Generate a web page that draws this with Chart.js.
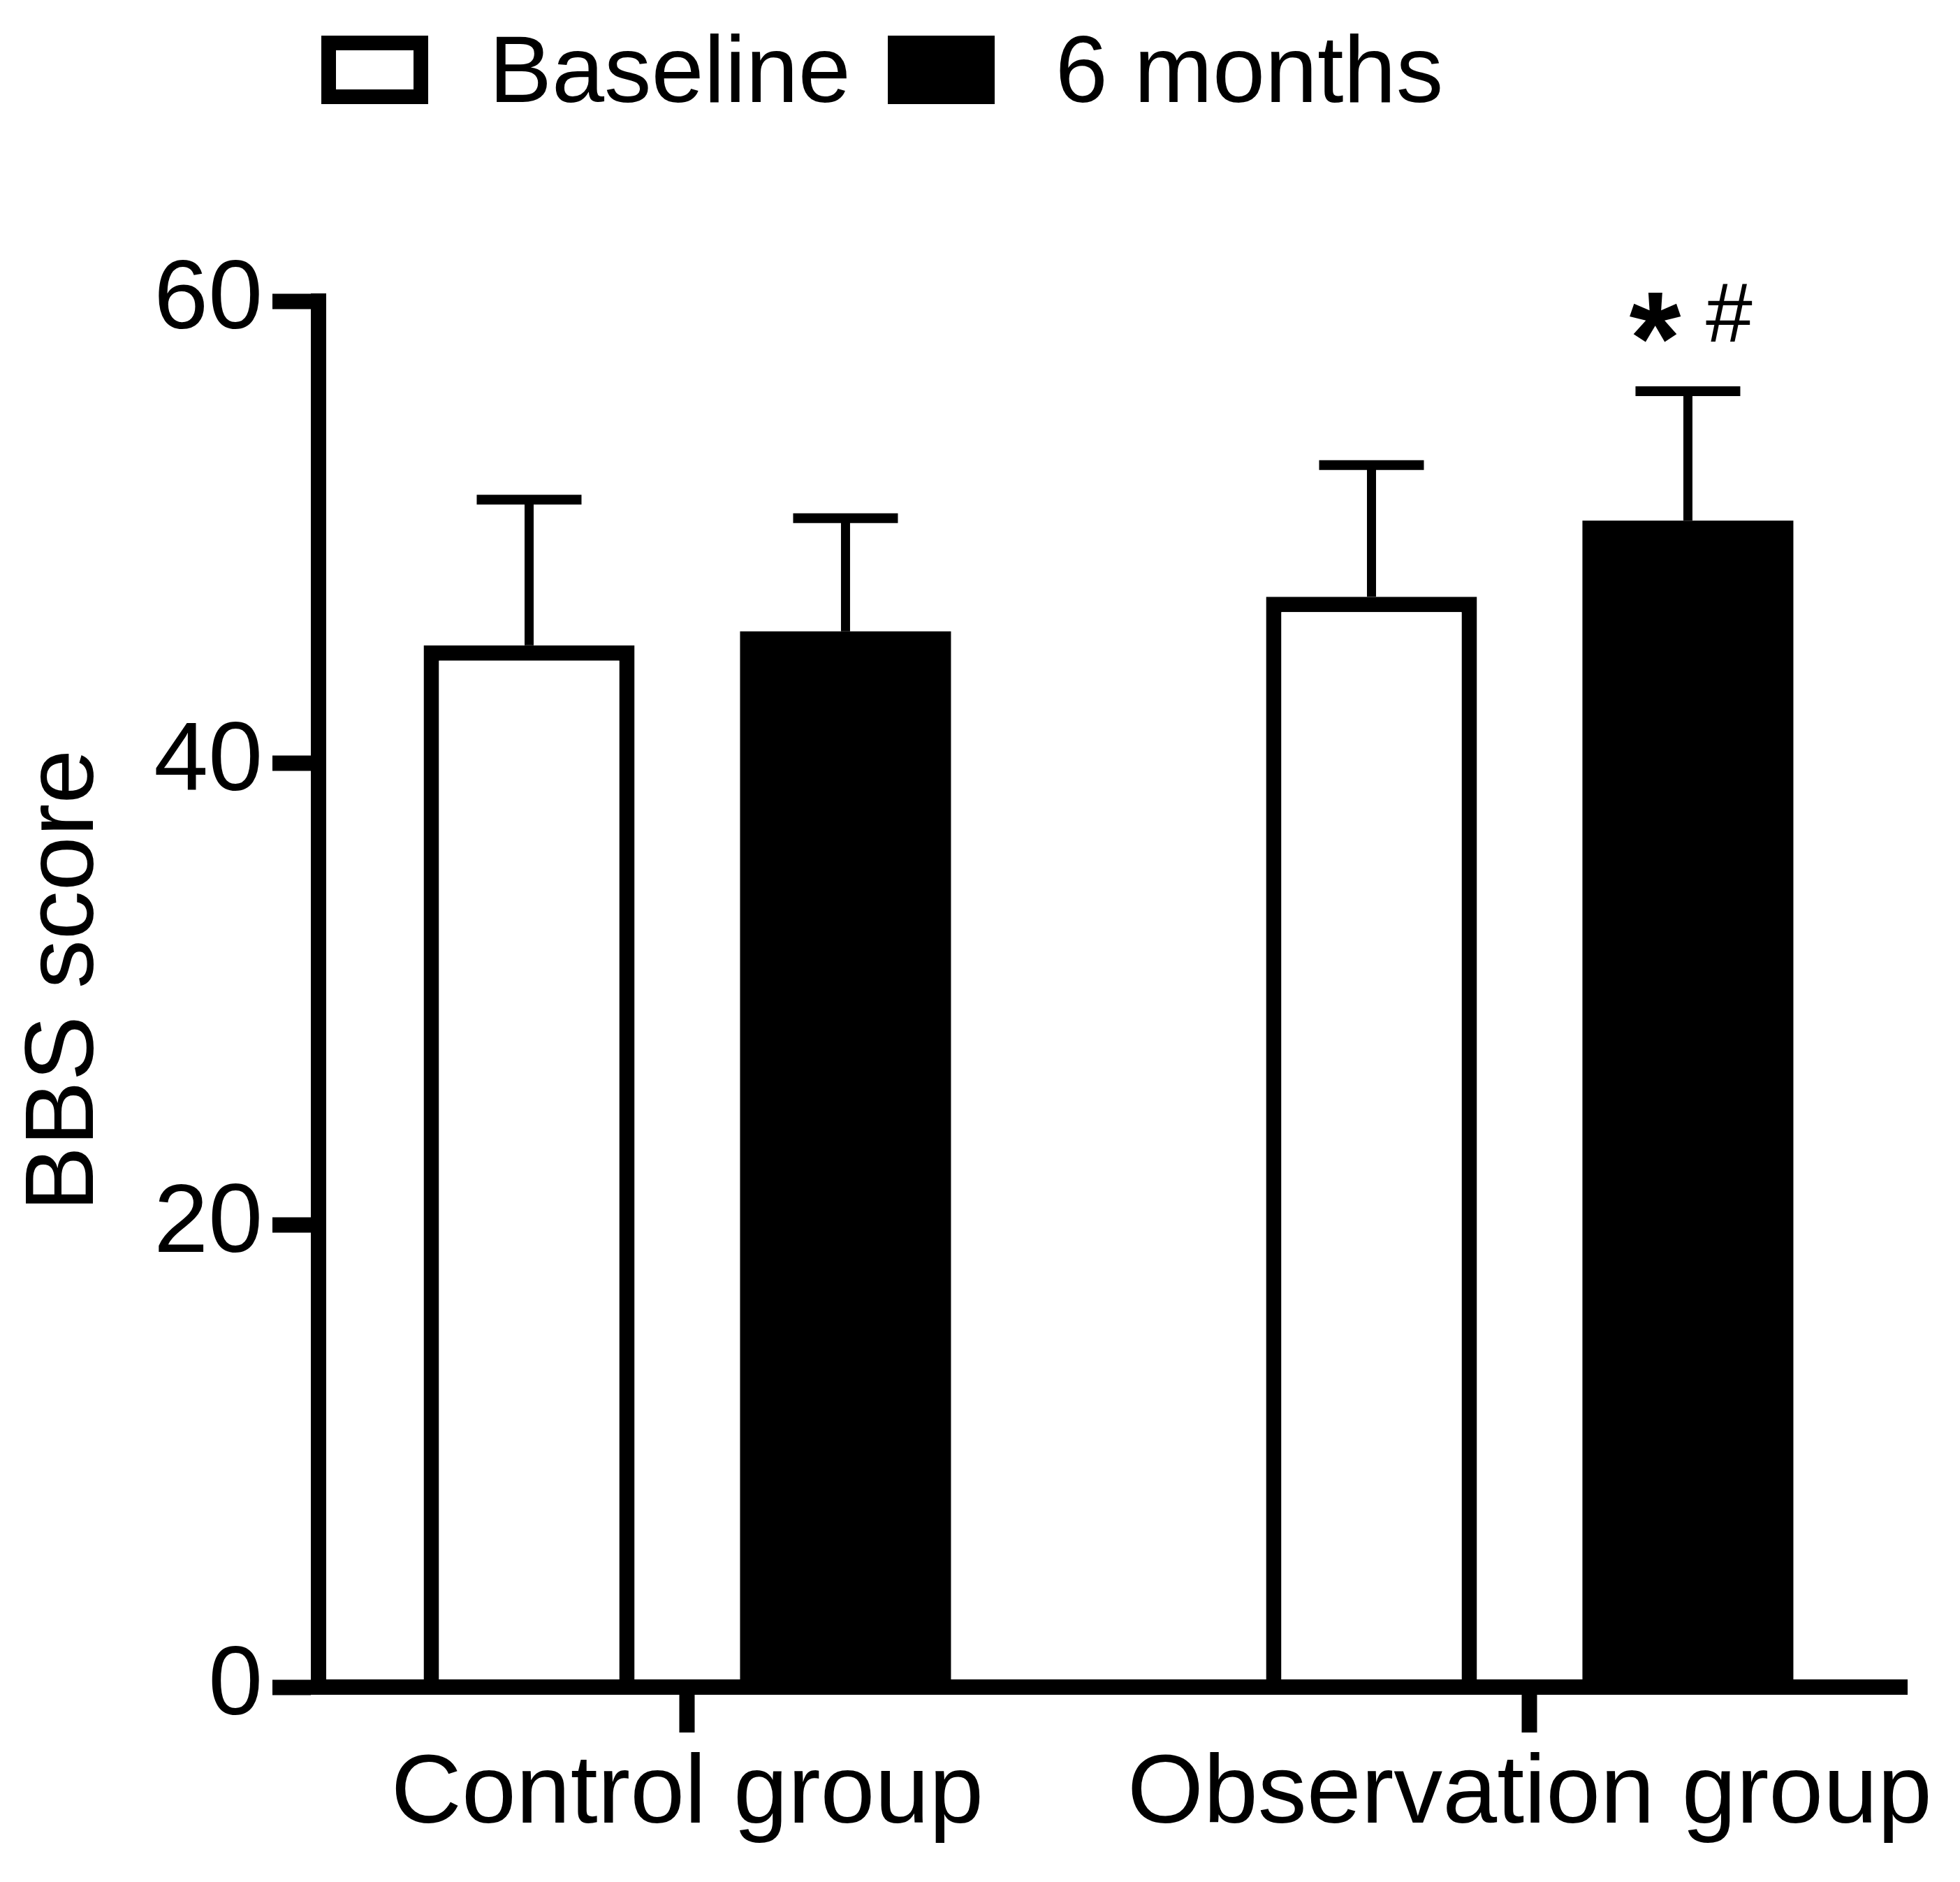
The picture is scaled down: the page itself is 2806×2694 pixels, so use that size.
<!DOCTYPE html>
<html>
<head>
<meta charset="utf-8">
<script src="https://cdn.jsdelivr.net/npm/chart.js@4.4.1/dist/chart.umd.min.js"></script>
<style>
  html, body { margin: 0; background: #fff; }
  #wrap { position: relative; width: 2806px; height: 2694px; }
  #legend { position: absolute; left: 460px; top: 51px; height: 98px; display: flex; align-items: center;
    font-family: 'Liberation Sans', Arial, sans-serif; font-size: 135px; line-height: 98px; color: #000; }
  #legend .lg { display: flex; align-items: center; margin-right: 53px; }
  #legend .sw { box-sizing: border-box; width: 153px; height: 98px; border: 21px solid #000; margin-right: 87px; }
</style>
</head>
<body>
<div id="wrap">
  <canvas id="chart" width="2806" height="2694"></canvas>
  <div id="legend"></div>
</div>
<script>
const FONT = "'Liberation Sans', Arial, sans-serif";
Chart.defaults.font.family = FONT;
Chart.defaults.color = '#000';

// groups along the x axis
const GROUPS = ['Control group', 'Observation group'];
// mean BBS score and SD per group
const BASELINE = [45.1, 47.2];
const BASELINE_SD = [6.3, 5.7];
const MONTH6 = [45.7, 50.5];
const MONTH6_SD = [4.9, 5.6];
// significance marks over the 6-month bars
const MONTH6_SIG = ['', '*#'];
const Y_TICKS = [0, 20, 40, 60];

// how each significance glyph is set, relative to the error bar cap
const SIG_STYLE = {
  '*': { font: `bold 190px ${FONT}`, dx: -47, dy: -105 },
  '#': { font: `120px ${FONT}`, dx: 59, dy: -112 },
};

function drawSig(ctx, text, x, capY) {
  [...text].forEach(ch => {
    const st = SIG_STYLE[ch];
    ctx.font = st.font;
    ctx.textAlign = 'left';
    ctx.textBaseline = 'alphabetic';
    const m = ctx.measureText(ch);
    // centre the ink box, not the advance box
    const tx = x + st.dx - (m.actualBoundingBoxRight - m.actualBoundingBoxLeft) / 2;
    const ty = capY + st.dy - (m.actualBoundingBoxDescent - m.actualBoundingBoxAscent) / 2;
    ctx.fillText(ch, tx, ty);
  });
}

// mean + SD whiskers, drawn on top of the bars
const errorBars = {
  id: 'errorBars',
  afterDatasetsDraw(chart) {
    const { ctx, scales: { y } } = chart;
    ctx.save();
    ctx.strokeStyle = '#000';
    ctx.fillStyle = '#000';
    ctx.lineCap = 'butt';
    chart.data.datasets.forEach((ds, di) => {
      chart.getDatasetMeta(di).data.forEach((bar, i) => {
        const capY = y.getPixelForValue(ds.data[i].y + ds.sd[i]);
        ctx.lineWidth = 13;
        ctx.beginPath(); ctx.moveTo(bar.x, bar.y); ctx.lineTo(bar.x, capY); ctx.stroke();
        ctx.lineWidth = 14;
        ctx.beginPath(); ctx.moveTo(bar.x - 75, capY); ctx.lineTo(bar.x + 75, capY); ctx.stroke();
        if (ds.sig && ds.sig[i]) drawSig(ctx, ds.sig[i], bar.x, capY);
      });
    });
    ctx.restore();
  }
};

const datasets = [
  { label: 'Baseline', data: BASELINE.map((v, i) => ({ x: i, y: v })), sd: BASELINE_SD,
    backgroundColor: '#fff', borderColor: '#000', borderWidth: 22 },
  // solid bar: no separate border, avoids a seam between border and fill
  { label: '6 months', data: MONTH6.map((v, i) => ({ x: i, y: v })), sd: MONTH6_SD, sig: MONTH6_SIG,
    backgroundColor: '#000', borderColor: '#000', borderWidth: 0 },
];

const axisBorder = { color: '#000', width: 22, z: 1 };

new Chart(document.getElementById('chart'), {
  type: 'bar',
  data: { datasets },
  options: {
    responsive: false,
    animation: false,
    datasets: { bar: { categoryPercentage: 0.7512, barPercentage: 0.6667 } },
    layout: { padding: { top: 431, right: 76, left: 0, bottom: 0 } },
    plugins: { legend: { display: false }, tooltip: { enabled: false } },
    scales: {
      x: {
        type: 'linear', min: -0.4378, max: 1.4478, offset: false,
        afterBuildTicks: s => { s.ticks = GROUPS.map((_, i) => ({ value: i })); },
        afterFit: s => { s.height = 279; },
        grid: { offset: false, drawOnChartArea: false, tickLength: 65, tickWidth: 22, tickColor: '#000' },
        border: axisBorder,
        ticks: { font: { size: 140 }, padding: 6, maxRotation: 0, autoSkip: false, callback: v => GROUPS[v] },
      },
      y: {
        min: 0, max: 60,
        afterBuildTicks: s => { s.ticks = Y_TICKS.map(v => ({ value: v })); },
        afterFit: s => { s.width = 456; },
        grid: { drawOnChartArea: false, tickLength: 66, tickWidth: 22, tickColor: '#000' },
        border: axisBorder,
        ticks: { font: { size: 140 }, padding: 14 },
        title: { display: true, text: ' BBS score', font: { size: 140 }, padding: { top: 10, bottom: 0 } },
      },
    },
  },
  plugins: [errorBars],
});

// legend as html, built from the datasets
document.getElementById('legend').innerHTML = datasets.map(d =>
  `<span class="lg"><span class="sw" style="background:${d.backgroundColor}"></span>${d.label}</span>`).join('');
</script>
</body>
</html>
